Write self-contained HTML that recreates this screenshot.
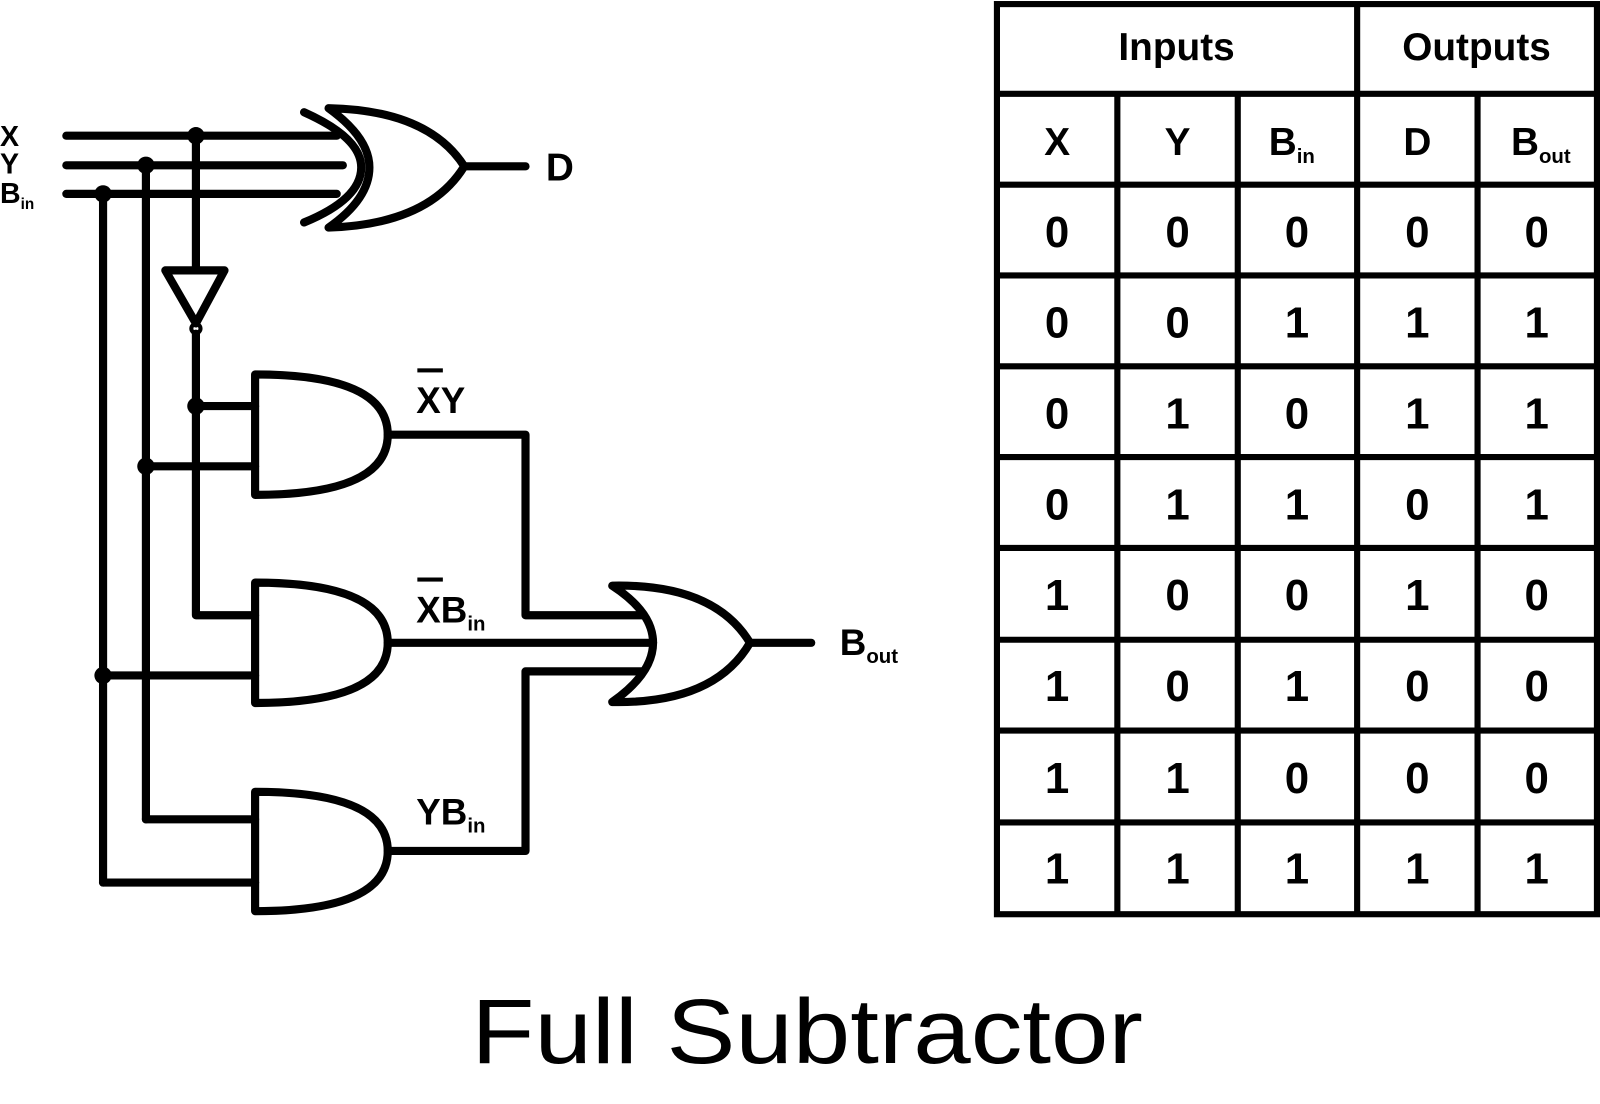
<!DOCTYPE html>
<html><head><meta charset="utf-8"><style>
html,body{margin:0;padding:0;background:#fff;width:1600px;height:1104px;overflow:hidden}
svg{display:block}
text{font-family:"Liberation Sans",sans-serif;font-weight:bold;fill:#000}
</style></head><body>
<svg width="1600" height="1104" viewBox="0 0 1568 1082" preserveAspectRatio="none" xmlns="http://www.w3.org/2000/svg">
<g fill="none" stroke="#000" stroke-width="8" stroke-linecap="round" stroke-linejoin="round">
<line x1="65" y1="133" x2="330" y2="133"/>
<line x1="65" y1="162" x2="336" y2="162"/>
<line x1="65" y1="190" x2="330" y2="190"/>
<path d="M298,110 Q354,135 354,164 Q354,195 298,218"/>
<path d="M322,106 Q362,135 362,164 Q362,195 322,223 Q420,220 455,163 Q420,108 322,106 Z"/>
<line x1="455" y1="163" x2="515" y2="163"/>
<line x1="192" y1="133" x2="192" y2="265"/>
<line x1="143" y1="162" x2="143" y2="803"/>
<line x1="101" y1="190" x2="101" y2="865"/>
<path d="M162,265 L220,265 L192,317 Z"/>
<circle cx="192" cy="322" r="4.5" stroke-width="4"/>
<polyline points="192,327 192,603 250,603"/>
<path d="M250,367 L250,485 Q380,485 380,426 Q380,367 250,367 Z"/>
<line x1="192" y1="398" x2="250" y2="398"/>
<line x1="143" y1="457" x2="250" y2="457"/>
<polyline points="380,426 515,426 515,603 630,603"/>
<path d="M250,571 L250,689 Q380,689 380,630 Q380,571 250,571 Z"/>
<line x1="101" y1="662" x2="250" y2="662"/>
<line x1="380" y1="630" x2="640" y2="630"/>
<path d="M250,776 L250,893 Q380,893 380,834 Q380,776 250,776 Z"/>
<line x1="143" y1="803" x2="250" y2="803"/>
<line x1="101" y1="865" x2="250" y2="865"/>
<polyline points="380,834 515,834 515,658 630,658"/>
<path d="M600,574 Q640,600 640,630 Q640,660 600,688 Q700,690 735,630 Q700,572 600,574 Z"/>
<line x1="735" y1="630" x2="795" y2="630"/>
</g>
<g fill="#000">
<circle cx="192" cy="133" r="8.5"/><circle cx="143" cy="162" r="8.5"/><circle cx="101" cy="190" r="8.5"/>
<circle cx="192" cy="398" r="8.5"/><circle cx="143" cy="457" r="8.5"/><circle cx="101" cy="662" r="8.5"/>
</g>
<text x="0" y="143" font-size="28">X</text>
<text x="0" y="170" font-size="28">Y</text>
<text x="0" y="199" font-size="28">B<tspan font-size="15" dy="6">in</tspan></text>
<text x="535" y="177" font-size="38">D</text>
<text x="408" y="405" font-size="36">XY</text>
<rect x="409" y="361" width="25" height="4"/>
<text x="408" y="610" font-size="36">XB<tspan font-size="20" dy="8">in</tspan></text>
<rect x="409" y="566" width="25" height="4"/>
<text x="408" y="808" font-size="36">YB<tspan font-size="20" dy="8">in</tspan></text>
<text x="823" y="642" font-size="36">B<tspan font-size="20" dy="8">out</tspan></text>
<g stroke="#000" stroke-width="6" fill="none">
<rect x="977" y="4" width="588" height="892"/>
<line x1="977" y1="92" x2="1565" y2="92"/>
<line x1="977" y1="181" x2="1565" y2="181"/>
<line x1="977" y1="270" x2="1565" y2="270"/>
<line x1="977" y1="359" x2="1565" y2="359"/>
<line x1="977" y1="448" x2="1565" y2="448"/>
<line x1="977" y1="537" x2="1565" y2="537"/>
<line x1="977" y1="627" x2="1565" y2="627"/>
<line x1="977" y1="716" x2="1565" y2="716"/>
<line x1="977" y1="806" x2="1565" y2="806"/>
<line x1="1095" y1="92" x2="1095" y2="896"/>
<line x1="1213" y1="92" x2="1213" y2="896"/>
<line x1="1330" y1="4" x2="1330" y2="896"/>
<line x1="1448" y1="92" x2="1448" y2="896"/>
</g>
<g font-size="38" text-anchor="middle">
<text x="1153" y="59">Inputs</text>
<text x="1447" y="59">Outputs</text>
<text x="1036" y="152">X</text>
<text x="1154" y="152">Y</text>
<text x="1266" y="152">B<tspan font-size="20" dy="8">in</tspan></text>
<text x="1389" y="152">D</text>
<text x="1510" y="152">B<tspan font-size="20" dy="8">out</tspan></text>
</g>
<g font-size="43" text-anchor="middle">
<text x="1036" y="242">0</text><text x="1154" y="242">0</text><text x="1271" y="242">0</text><text x="1389" y="242">0</text><text x="1506" y="242">0</text>
<text x="1036" y="331">0</text><text x="1154" y="331">0</text><text x="1271" y="331">1</text><text x="1389" y="331">1</text><text x="1506" y="331">1</text>
<text x="1036" y="420">0</text><text x="1154" y="420">1</text><text x="1271" y="420">0</text><text x="1389" y="420">1</text><text x="1506" y="420">1</text>
<text x="1036" y="509">0</text><text x="1154" y="509">1</text><text x="1271" y="509">1</text><text x="1389" y="509">0</text><text x="1506" y="509">1</text>
<text x="1036" y="598">1</text><text x="1154" y="598">0</text><text x="1271" y="598">0</text><text x="1389" y="598">1</text><text x="1506" y="598">0</text>
<text x="1036" y="687">1</text><text x="1154" y="687">0</text><text x="1271" y="687">1</text><text x="1389" y="687">0</text><text x="1506" y="687">0</text>
<text x="1036" y="777">1</text><text x="1154" y="777">1</text><text x="1271" y="777">0</text><text x="1389" y="777">0</text><text x="1506" y="777">0</text>
<text x="1036" y="866">1</text><text x="1154" y="866">1</text><text x="1271" y="866">1</text><text x="1389" y="866">1</text><text x="1506" y="866">1</text>
</g>
<text x="462" y="1042" font-size="90" style="font-weight:normal" textLength="658" lengthAdjust="spacingAndGlyphs">Full Subtractor</text>
</svg>
</body></html>
